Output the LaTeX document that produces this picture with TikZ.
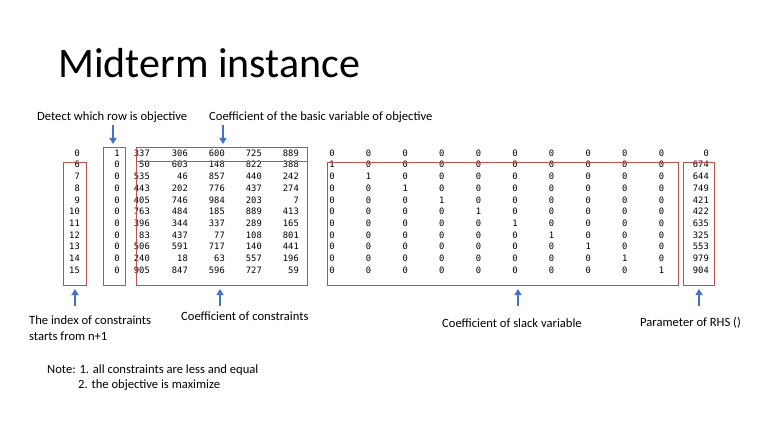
\documentclass[tikz,border=0pt]{standalone}
\usepackage{fontspec}
\setmainfont{Carlito}
\newfontfamily\nummono{DejaVu Sans Mono}
\usetikzlibrary{arrows.meta}
\definecolor{boxred}{RGB}{192,80,77}
\definecolor{arrblue}{RGB}{68,114,196}
\begin{document}
\begin{tikzpicture}[x=1pt,y=-1pt,
  num/.style={font=\nummono\fontsize{8.8}{9}\selectfont,inner sep=0pt},
  lbl/.style={font=\fontsize{12.6}{14}\selectfont,inner sep=0pt,anchor=west,align=left},
  redbox/.style={draw=boxred,line width=0.8pt},
  bluearrow/.style={draw=arrblue,line width=2.6pt,-{Triangle[width=7pt,length=6pt]}}]
\useasboundingbox (0,0) rectangle (768,433);
\node[anchor=base west,inner sep=0pt,font=\fontsize{42}{46}\selectfont] (title) at (58,78) {Midterm instance};
% data
\def\idx{{0,6,7,8,9,10,11,12,13,14,15}}
\def\coefA{{337,50,535,443,405,763,396,83,506,240,905}}
\def\coefB{{306,603,46,202,746,484,344,437,591,18,847}}
\def\coefC{{600,148,857,776,984,185,337,77,717,63,596}}
\def\coefD{{725,822,440,437,203,889,289,108,140,557,727}}
\def\coefE{{889,388,242,274,7,413,165,801,441,196,59}}
\def\rhs{{0,674,644,749,421,422,635,325,553,979,904}}
\foreach \i in {0,...,10}{
  \pgfmathsetmacro\yy{153+\i*11.7}
  \node[num,anchor=east] (i\i) at (80,\yy) {\pgfmathparse{int(\idx[\i])}\pgfmathresult};
  \node[num] (o\i) at (117,\yy) {\ifnum\i=0\relax 1\else 0\fi};
  \node[num,anchor=east] (a\i) at (150,\yy) {\pgfmathparse{int(\coefA[\i])}\pgfmathresult};
  \node[num,anchor=east] (b\i) at (188,\yy) {\pgfmathparse{int(\coefB[\i])}\pgfmathresult};
  \node[num,anchor=east] (c\i) at (225,\yy) {\pgfmathparse{int(\coefC[\i])}\pgfmathresult};
  \node[num,anchor=east] (d\i) at (262,\yy) {\pgfmathparse{int(\coefD[\i])}\pgfmathresult};
  \node[num,anchor=east] (e\i) at (299,\yy) {\pgfmathparse{int(\coefE[\i])}\pgfmathresult};
  \foreach \j in {1,...,10}{
    \node[num] (s\i-\j) at ({332+(\j-1)*36.6},\yy) {\ifnum\i=\j\relax 1\else 0\fi};
  }
  \node[num,anchor=east] (r\i) at (709,\yy) {\pgfmathparse{int(\rhs[\i])}\pgfmathresult};
}
% boxes
\draw[redbox] (63,162) rectangle (86,285);
\draw[redbox] (103,147) rectangle (125,285);
\draw[redbox] (136,147) rectangle (307,285);
\draw[redbox] (136,161) -- (307,161);
\draw[redbox] (327,162) rectangle (678,285);
\draw[redbox] (683,162) rectangle (714,285);
% labels
\node[lbl] (l1) at (37,117) {Detect which row is objective};
\node[lbl] (l2) at (209,117) {Coefficient of the basic variable of objective};
\node[lbl] (l3) at (29,328) {The index of constraints\\[2pt]starts from n+1};
\node[lbl] (l4) at (181,316) {Coefficient of constraints};
\node[lbl] (l5) at (442,323) {Coefficient of slack variable};
\node[lbl] (l6) at (640,323) {Parameter of RHS ()};
\node[lbl] (n1) at (47,370) {Note: 1. all constraints are less and equal};
\node[lbl] (n2) at (78,385) {2. the objective is maximize};
% arrows
\coordinate (t1) at (113,125); \coordinate (h1) at (113,144);
\coordinate (t2) at (223,125); \coordinate (h2) at (223,144);
\coordinate (t3) at (75,306); \coordinate (h3) at (75,289);
\coordinate (t4) at (220,306); \coordinate (h4) at (220,289);
\coordinate (t5) at (518,306); \coordinate (h5) at (518,289);
\coordinate (t6) at (699,306); \coordinate (h6) at (699,289);
\foreach \k in {1,...,6}{\draw[bluearrow] (t\k) -- (h\k);}
\end{tikzpicture}
\end{document}
